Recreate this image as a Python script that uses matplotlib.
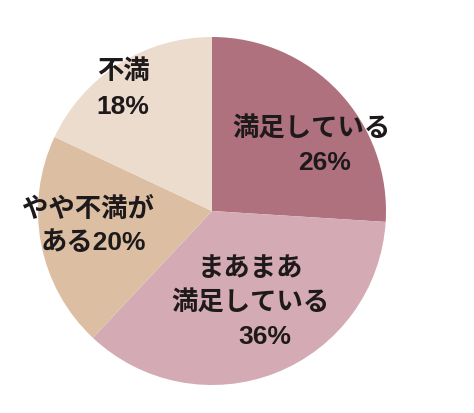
import matplotlib
matplotlib.use("Agg")
import matplotlib.pyplot as plt

# 数字は Liberation Sans、かなと漢字は Noto Sans CJK JP
plt.rcParams['font.family'] = ['Liberation Sans', 'Noto Sans CJK JP', 'DejaVu Sans']

# データ
categories = ['満足している', 'まあまあ満足している', 'やや不満がある', '不満']
shares = [26, 36, 20, 18]
colors = ['#b0717f', '#d4abb4', '#dcbfa3', '#ecdccd']

# 画像サイズ（px）とパイの中心・半径
W, H = 474, 414
cx, cy, R = 212, 212, 174


def px(x, y):
    # ピクセル座標 -> データ座標
    return (x - cx) / R, (cy - y) / R


# ラベル行 (テキスト, x中心px, y中心px)
label_lines = [
    ('満足している', 311, 128), ('26%', 325, 163),
    ('まあまあ', 250, 269), ('満足している', 250, 302), ('36%', 265, 337),
    ('やや不満が', 88, 209), ('ある20%', 93, 243),
    ('不満', 123, 72), ('18%', 123, 107),
]

fig = plt.figure(figsize=(W / 100, H / 100), dpi=100)
ax = fig.add_axes([0, 0, 1, 1])
ax.pie(shares, colors=colors, startangle=90, counterclock=False,
       radius=1, center=(0, 0), wedgeprops=dict(linewidth=0))
ax.set_xlim(-cx / R, (W - cx) / R)
ax.set_ylim(-(H - cy) / R, cy / R)
ax.set_aspect('auto')
ax.axis('off')

for txt, x, y in label_lines:
    tx, ty = px(x, y)
    ax.text(tx, ty, txt, ha='center', va='center', fontsize=19,
            fontweight='bold', color='#1e1a1b')

fig.savefig('out.png', dpi=100, facecolor='white')
